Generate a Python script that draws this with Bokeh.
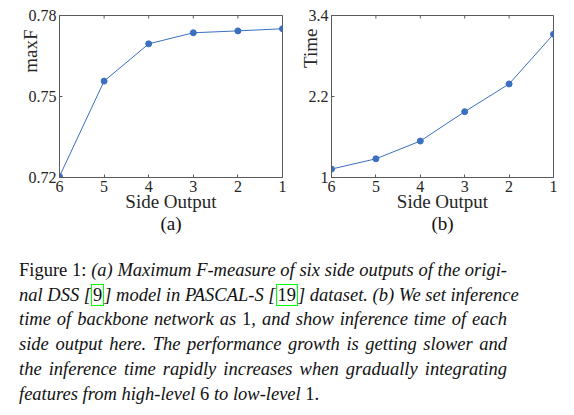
from bokeh.plotting import figure
from bokeh.models import Range1d, FixedTicker, Title, Div
from bokeh.layouts import row, column
from bokeh.embed import file_html
from bokeh.resources import INLINE

# side outputs, from high-level 6 to low-level 1
side = [6, 5, 4, 3, 2, 1]
maxf = [0.7204, 0.7557, 0.7695, 0.7736, 0.7743, 0.7751]
infer_time = [1.125, 1.277, 1.54, 1.975, 2.386, 3.122]

side_ticks = [6, 5, 4, 3, 2, 1]
maxf_ticks = [0.72, 0.75, 0.78]
time_ticks = [1, 2.2, 3.4]
time_tick_labels = {1: "1", 2.2: "2.2", 3.4: "3.4"}

FONT = "Liberation Serif"
BLUE = "#3b6fbf"
AXIS = "#5a5a5a"
TEXT = "#262626"


def style_axis(ax, ticks):
    ax.ticker = FixedTicker(ticks=ticks)
    ax.major_tick_in = 3
    ax.major_tick_out = 0
    ax.minor_tick_line_color = None
    ax.major_tick_line_color = AXIS
    ax.axis_line_color = AXIS
    ax.major_label_text_font = FONT
    ax.major_label_text_font_size = "16px"
    ax.major_label_text_color = TEXT
    ax.major_label_standoff = 3
    ax.axis_label_text_font = FONT
    ax.axis_label_text_font_size = "19px"
    ax.axis_label_text_font_style = "normal"
    ax.axis_label_text_color = TEXT


def panel(y, yticks, ylabel, label_down, sub, width, bl, br):
    p = figure(width=width, height=247, x_range=Range1d(6, 1),
               y_range=Range1d(yticks[0], yticks[-1]),
               output_backend="svg", toolbar_location=None,
               min_border_left=bl, min_border_right=br,
               min_border_top=15, min_border_bottom=70,
               outline_line_color=AXIS, outline_line_width=1)
    p.grid.visible = False

    p.line(side, y, line_color=BLUE, line_width=1)
    p.scatter(side, y, size=6, fill_color=BLUE, line_color=BLUE)

    style_axis(p.xaxis[0], side_ticks)
    style_axis(p.yaxis[0], yticks)
    p.xaxis.axis_label = "Side Output"
    p.xaxis.axis_label_standoff = -4

    # y label sits near the top of the axis, as in the original
    p.add_layout(Title(text=ylabel, align="right", offset=label_down,
                       text_font=FONT, text_font_size="19px",
                       text_font_style="normal", text_color=TEXT,
                       standoff=-30), "left")

    # inner ticks on the top edge (box on)
    p.scatter(side_ticks, [yticks[-1]] * len(side_ticks), marker="dash",
              angle=90, angle_units="deg", size=6, line_color=AXIS)

    p.add_layout(Title(text=sub, align="center", text_font=FONT,
                       text_font_size="19px", text_font_style="normal",
                       text_color="#111111", standoff=-7), "below")
    return p


p1 = panel(maxf, maxf_ticks, "maxF", 14, "(a)", 291, 59, 9)
p2 = panel(infer_time, time_ticks, "Time", 13, "(b)", 283, 40, 21)
p2.yaxis[0].major_label_overrides = time_tick_labels

box = 'style="border:1px solid #00ff00;font-style:normal;padding:0 1px"'
lines = [
    'Figure 1: <i>(a) Maximum F-measure of six side outputs of the origi-</i>',
    '<i>nal DSS [<span ' + box + '>9</span>] model in PASCAL-S '
    '[<span ' + box + '>19</span>] dataset. (b) We set inference</i>',
    '<i>time of backbone network as </i>1<i>, and show inference time of each</i>',
    '<i>side output here. The performance growth is getting slower and</i>',
    '<i>the inference time rapidly increases when gradually integrating</i>',
]
last = '<i>features from high-level </i>6<i> to low-level </i>1.'

html = '<div style="margin:11px 0 0 19px;width:488px">'
html += ''.join('<div style="white-space:nowrap;text-align:justify;'
                'text-align-last:justify">' + s + '</div>' for s in lines)
html += '<div style="white-space:nowrap;text-align:left">' + last + '</div>'
html += '</div>'

caption = Div(text=html, width=560, height=162, margin=0,
              styles={"font-family": FONT, "font-size": "18.5px",
                      "line-height": "24.7px", "color": "#111111"})

p = column(row(p1, p2), caption)

open("out.html", "w").write(file_html(p, INLINE))
